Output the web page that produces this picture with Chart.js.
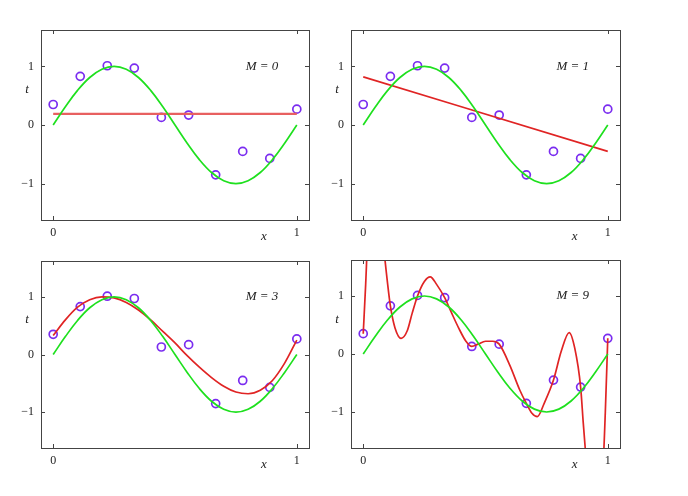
<!DOCTYPE html>
<html><head><meta charset="utf-8">
<script src="https://cdn.jsdelivr.net/npm/chart.js@4"></script>
<style>body{margin:0;background:#fff;width:688px;height:496px;position:relative;overflow:hidden}
canvas{position:absolute}</style></head><body>
<canvas id="c0"></canvas><canvas id="c1"></canvas><canvas id="c2"></canvas><canvas id="c3"></canvas>
<script>
const dataX = [0,0.111,0.222,0.333,0.444,0.556,0.667,0.778,0.889,1];
const dataT = [0.35,0.83,1.01,0.97,0.13,0.17,-0.85,-0.45,-0.57,0.27];
const curveX = [0,0.05,0.1,0.15,0.2,0.25,0.3,0.35,0.4,0.45,0.5,0.55,0.6,0.65,0.7,0.75,0.8,0.85,0.9,0.95,1];
const sineT = [0,0.31,0.59,0.81,0.95,1,0.95,0.81,0.59,0.31,0,-0.31,-0.59,-0.81,-0.95,-1,-0.95,-0.81,-0.59,-0.31,0];
const fitM0X = [0,1];
const fitM0T = [0.19,0.19];
const fitM1X = [0,1];
const fitM1T = [0.82,-0.45];
const fitM3T = [0.33,0.6,0.82,0.95,1.0,0.98,0.9,0.77,0.6,0.4,0.2,-0.02,-0.22,-0.4,-0.55,-0.65,-0.68,-0.62,-0.45,-0.15,0.25];
const fitM9X = [0,0.01,0.02,0.04,0.06,0.08,0.1,0.111,0.13,0.155,0.18,0.2,0.222,0.25,0.274,0.3,0.333,0.36,0.39,0.42,0.444,0.47,0.5,0.53,0.556,0.6,0.64,0.667,0.69,0.712,0.74,0.778,0.81,0.842,0.865,0.889,0.9,0.92,0.95,0.98,0.99,1];
const fitM9T = [0.35,1.2,2.2,3.2,3.0,2.0,1.2,0.83,0.45,0.27,0.4,0.7,1.0,1.25,1.33,1.2,0.97,0.72,0.45,0.22,0.13,0.17,0.22,0.22,0.17,-0.2,-0.62,-0.85,-1.02,-1.08,-0.85,-0.45,0.05,0.37,0.1,-0.57,-1.2,-2.2,-3,-2,-1.0,0.27];
const panelLabels = ['M = 0','M = 1','M = 3','M = 9'];
const xTicks = [0,1];
const yTicks = [-1,0,1];

const zip=(xs,ys)=>xs.map((x,i)=>({x,y:ys[i]}));
const fits=[[fitM0X,fitM0T],[fitM1X,fitM1T],[curveX,fitM3T],[fitM9X,fitM9T]];
const boxes=[
 {l:0,t:0,w:340,h:250,p:{left:41,top:30,right:31,bottom:30}},
 {l:320,t:0,w:340,h:250,p:{left:31,top:30,right:40,bottom:30}},
 {l:0,t:240,w:340,h:256,p:{left:41,top:21,right:31,bottom:48}},
 {l:320,t:240,w:340,h:256,p:{left:31,top:20,right:40,bottom:48}}
];
const deco={id:'deco',afterDraw(ch){
 const c=ch.ctx,a=ch.chartArea,xs=ch.scales.x,ys=ch.scales.y;
 c.save();c.strokeStyle='#444';c.lineWidth=1;
 c.strokeRect(a.left+0.5,a.top+0.5,a.right-a.left,a.bottom-a.top);
 c.beginPath();
 xTicks.forEach(v=>{const p=Math.round(xs.getPixelForValue(v))+0.5;c.moveTo(p,a.bottom);c.lineTo(p,a.bottom-4);c.moveTo(p,a.top);c.lineTo(p,a.top+4);});
 yTicks.forEach(v=>{const p=Math.round(ys.getPixelForValue(v))+0.5;c.moveTo(a.left,p);c.lineTo(a.left+4,p);c.moveTo(a.right,p);c.lineTo(a.right-4,p);});
 c.stroke();
 c.fillStyle='#222';c.font='12px "Liberation Serif", serif';
 c.textAlign='center';c.textBaseline='top';
 xTicks.forEach(v=>c.fillText(String(v),xs.getPixelForValue(v),a.bottom+7));
 c.textAlign='right';c.textBaseline='middle';
 yTicks.forEach(v=>c.fillText(v<0?'\u2212'+(-v):String(v),a.left-7,ys.getPixelForValue(v)));
 c.font='italic 13px "Liberation Serif", serif';
 c.textAlign='center';
 c.fillText('t',a.left-14,ys.getPixelForValue(0.6));
 c.fillText('x',xs.getPixelForValue(0.865),a.bottom+17);
 c.textAlign='left';
 c.fillText(ch.options.plugins.tag,xs.getPixelForValue(0.79),ys.getPixelForValue(1.0));
 c.restore();
}};
boxes.forEach((b,i)=>{
 const cv=document.getElementById('c'+i);
 cv.style.left=b.l+'px';cv.style.top=b.t+'px';cv.style.width=b.w+'px';cv.style.height=b.h+'px';
 cv.width=b.w;cv.height=b.h;
 new Chart(cv,{type:'line',data:{datasets:[
  {data:zip(curveX,sineT),borderColor:'#1ee01e',borderWidth:1.7,pointRadius:0,tension:0.4},
  {data:zip(fits[i][0],fits[i][1]),borderColor:i===0?'#e86060':'#e02424',borderWidth:i===0?2.2:1.7,pointRadius:0,cubicInterpolationMode:'monotone'},
  {data:zip(dataX,dataT),showLine:false,pointRadius:4,pointBorderWidth:1.7,pointBorderColor:'#7a2cf0',pointBackgroundColor:'rgba(0,0,0,0)'}
 ]},options:{responsive:false,animation:false,devicePixelRatio:1,layout:{padding:b.p},
  plugins:{legend:{display:false},tooltip:{enabled:false},tag:panelLabels[i]},
  scales:{x:{type:'linear',min:-0.05,max:1.05,display:false},y:{min:-1.62,max:1.62,display:false}}},
  plugins:[deco]});
});
</script></body></html>
